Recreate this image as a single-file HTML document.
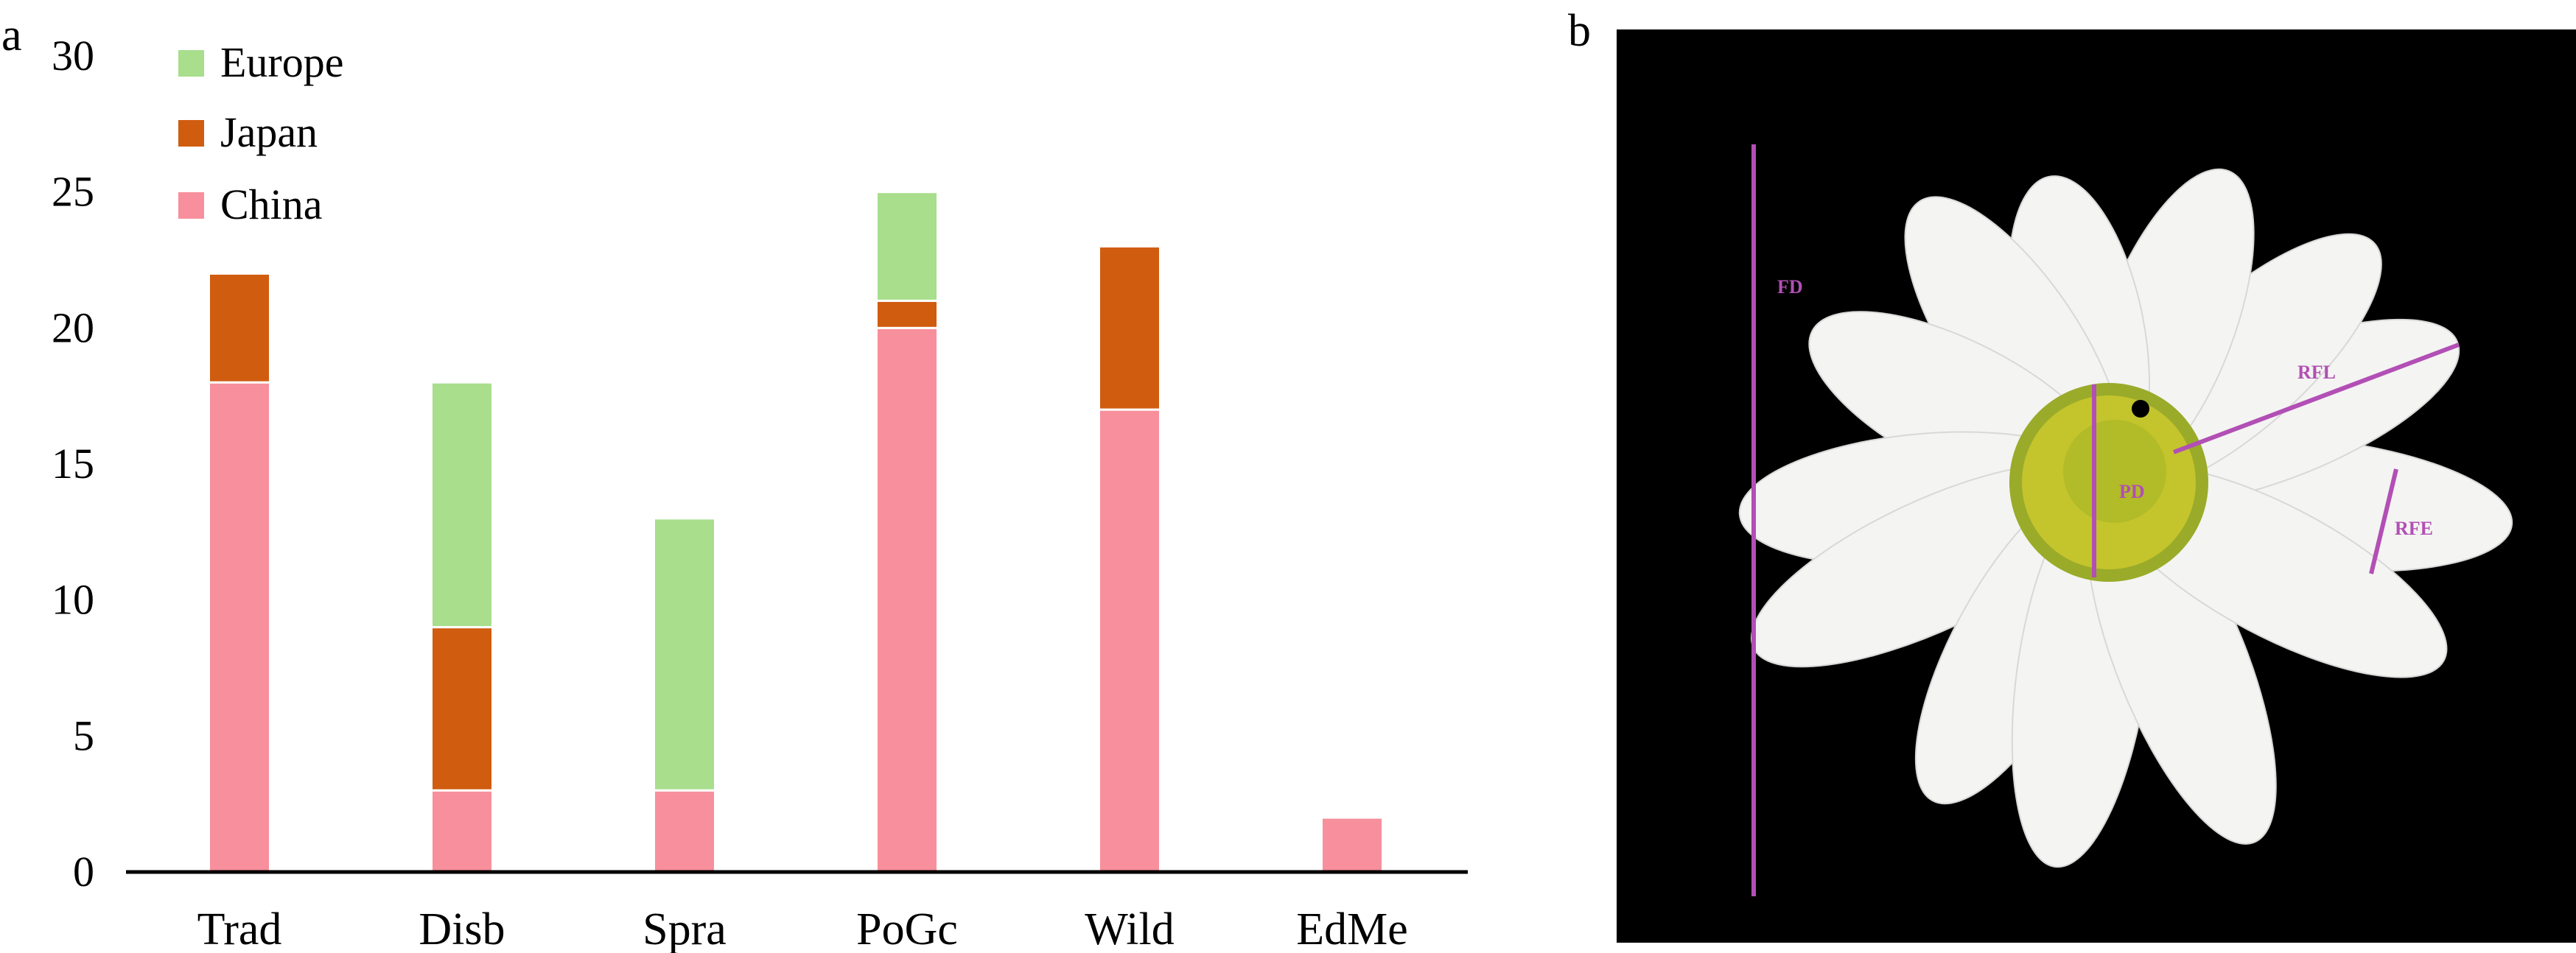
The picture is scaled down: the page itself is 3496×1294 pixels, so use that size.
<!DOCTYPE html>
<html><head><meta charset="utf-8"><style>
html,body{margin:0;padding:0;background:#fff;}
svg{display:block;}
text{font-family:"Liberation Serif",serif;}
</style></head><body>
<svg id="fig" width="3496" height="1294" viewBox="0 0 3496 1294">
<text x="2" y="68" font-size="62">a</text>
<g id="chart"></g>
<text x="2128" y="62" font-size="62">b</text>
<g>
<rect x="2194" y="40" width="1302" height="1240" fill="#000"/>
<g id="petals"></g>
<circle cx="2862" cy="655" r="135" fill="#9aab2a"/>
<circle cx="2862" cy="655" r="118" fill="#c4c42c"/>
<circle cx="2870" cy="640" r="70" fill="#b2bb28"/>
<circle cx="2905" cy="555" r="12" fill="#000"/>
<g stroke="#b24fb5" stroke-width="6" fill="none">
<line x1="2380" y1="196" x2="2380" y2="1217"/>
<line x1="2842" y1="522" x2="2842" y2="784"/>
<line x1="2950" y1="614" x2="3337" y2="468"/>
<line x1="3252" y1="637" x2="3218" y2="779"/>
</g>
<g fill="#b24fb5" font-size="26" font-weight="bold">
<text x="2412" y="398">FD</text>
<text x="2876" y="676">PD</text>
<text x="3118" y="514">RFL</text>
<text x="3250" y="726">RFE</text>
</g>
</g>
</svg>
<script>
const categories = ["Trad","Disb","Spra","PoGc","Wild","EdMe"];
const china = [18,3,3,20,17,2];
const japan = [4,6,0,1,6,0];
const europe = [0,9,10,4,0,0];
const yTicks = [0,5,10,15,20,25,30];
const seriesNames = ["China","Japan","Europe"];
const seriesColors = ["#f88f9c","#d05c10","#a8de8c"];

const NS = "http://www.w3.org/2000/svg";
const g = document.getElementById("chart");
const X0 = 171, X1 = 1992, Y0 = 1184, Y30 = 76;
const yScale = v => Y0 - (v / 30) * (Y0 - Y30);
const band = 302, firstC = 325, barW = 83;
const xScale = i => firstC + i * band;
function mk(tag, attrs){ const e = document.createElementNS(NS, tag); for (const k in attrs) e.setAttribute(k, attrs[k]); g.appendChild(e); return e; }

yTicks.forEach(t => {
  const e = mk("text", {x:128, y:yScale(t)+19, "font-size":58, "text-anchor":"end"});
  e.textContent = t;
  
  
});
const series = [china, japan, europe];
categories.forEach((c, i) => {
  let base = 0;
  series.forEach((s, k) => {
    const v = s[i];
    if (v > 0) {
      const yTop = yScale(base + v), yBot = yScale(base);
      const r = mk("rect", {x:xScale(i)-barW/2, y:yTop, width:barW, height:yBot-yTop, fill:seriesColors[k], stroke:"#fff", "stroke-width":3});
      
      
    }
    base += v;
  });
  const t = mk("text", {x:xScale(i), y:1282, "font-size":62, "text-anchor":"middle"});
  t.textContent = c;
  
  
});
const ax = mk("line", {x1:X0, y1:Y0, x2:X1, y2:Y0, stroke:"#000", "stroke-width":5});



const legendOrder = [2,1,0];
const legendY = [68,163,261];
legendOrder.forEach((k, j) => {
  const r = mk("rect", {x:242, y:legendY[j], width:35, height:36, fill:seriesColors[k]});
  
  
  const t = mk("text", {x:299, y:legendY[j]+36, "font-size":58});
  t.textContent = seriesNames[k];
  
  
});

// flower petals
const pg = document.getElementById("petals");
const cx = 2862, cy = 655;
const petals = [[6,550],[-22,510],[-42,485],[-69,453],[-101,423],[-124,460],[-153,452],[175,503],[155,532],[119,494],[98,527],[68,527],[28,515]];
petals.forEach(p => {
  const a = p[0], L = p[1];
  const e = document.createElementNS(NS, "ellipse");
  e.setAttribute("cx", cx + L/2);
  e.setAttribute("cy", cy);
  e.setAttribute("rx", L/2);
  e.setAttribute("ry", 88);
  e.setAttribute("fill", "#f4f4f2");
  e.setAttribute("stroke", "#d8d8d8");
  e.setAttribute("stroke-width", "2");
  e.setAttribute("transform", "rotate(" + a + " " + cx + " " + cy + ")");
  
  
  pg.appendChild(e);
});
</script>
</body></html>
